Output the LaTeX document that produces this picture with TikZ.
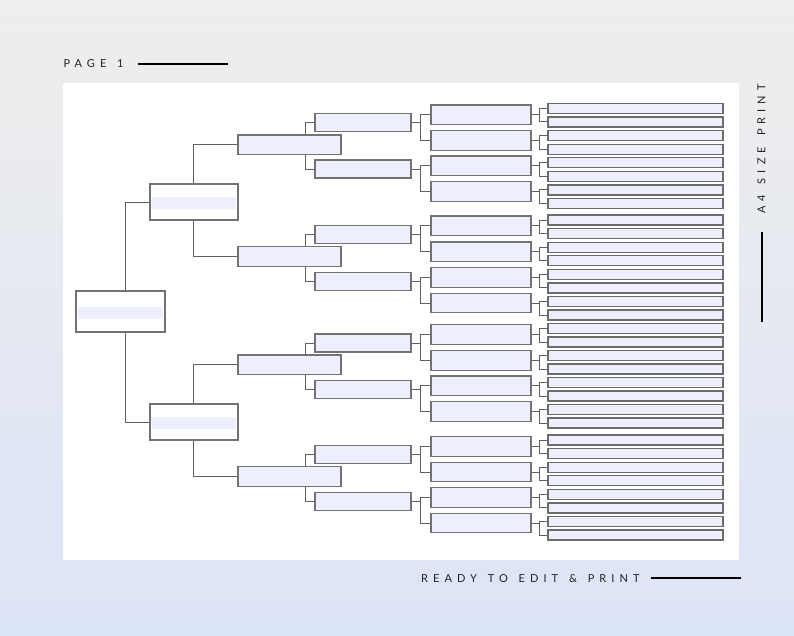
\documentclass[tikz,border=0pt]{standalone}
\usepackage{fontspec}
\newfontfamily\labfont[LetterSpace=46,WordSpace={1.38}]{Lato}
\definecolor{bgtop}{RGB}{238,238,236}
\definecolor{bgbot}{RGB}{220,228,248}
\definecolor{boxfill}{RGB}{237,240,252}
\definecolor{boxline}{RGB}{115,115,115}
\definecolor{leafline}{RGB}{108,108,108}
\definecolor{wirecol}{RGB}{95,95,95}
\definecolor{ink}{RGB}{35,35,35}
\pgfdeclarelayer{bg}
\pgfsetlayers{bg,main}
\begin{document}
\begin{tikzpicture}[x=1pt,y=-1pt,
  basebox/.style={draw=boxline,line width=1.1pt,inner sep=0pt,outer sep=0pt,anchor=north west},
  bigbox/.style={basebox,fill=white},
  midbox/.style={basebox,fill=boxfill},
  leafbox/.style={basebox,draw=leafline,line width=1.2pt,fill=boxfill},
  wire/.style={draw=wirecol,line width=1pt},
  rulebar/.style={draw=black,line width=2pt},
  lab/.style={text=ink,inner sep=0pt,font=\labfont\fontsize{11}{13}\selectfont}]
\useasboundingbox (0,0) rectangle (794,635);

% boxes
\node[bigbox,minimum width=89pt,minimum height=41pt] (l1) at (76,291) {};
\fill[boxfill] (77.7,306.7) rectangle (163.3,319);
\foreach \t [count=\i] in {184,404} {
  \node[bigbox,minimum width=88pt,minimum height=36pt] (l2-\i) at (150,\t) {};
  \fill[boxfill] (152,\t+12.5) rectangle (236,\t+25);
}
\foreach \t [count=\i] in {135,246.7,355,466.7}
  \node[midbox,minimum width=103pt,minimum height=19.5pt] (l3-\i) at (238,\t) {};
\foreach \t [count=\i] in {113.7,160,225.3,272.3,334,380.7,445.7,492.3}
  \node[midbox,minimum width=96pt,minimum height=18pt] (l4-\i) at (315,\t) {};
\foreach \t [count=\i] in {105,130.7,156,181.7,216,242,267.7,293.3,324.7,350.7,376,401.7,436.7,462.3,487.7,513.3}
  \node[midbox,minimum width=100pt,minimum height=19.5pt] (l5-\i) at (431,\t) {};
\foreach \t [count=\i] in {103.3,116.9,130.5,144.1,157.7,171.3,184.9,198.5,
                           215,228.6,242.1,255.7,269.3,282.9,296.4,310,
                           323.5,337,350.5,364,377.5,391,404.5,418,
                           435,448.6,462.1,475.7,489.3,502.9,516.4,530}
  \node[leafbox,minimum width=175pt,minimum height=10pt] (l6-\i) at (548,\t) {};

\coordinate (bus4) at (420.7,0);
\coordinate (bus5) at (539.3,0);

% labels
\node[lab,anchor=base west] (pagelbl) at (63.3,67.7) {PAGE 1};
\coordinate (pr1) at (137.7,64);
\coordinate (pr2) at (228.3,64);
\node[lab,anchor=base west] (readylbl) at (421,582.3) {READY TO EDIT \& PRINT};
\coordinate (rr1) at (651,578);
\coordinate (rr2) at (741,578);
\node[lab,anchor=base west,rotate=90] (a4lbl) at (765.3,214) {A4 SIZE PRINT};
\coordinate (ar1) at (762.3,231.7);
\coordinate (ar2) at (762.3,321.7);
\draw[rulebar] (pr1) -- (pr2);
\draw[rulebar] (rr1) -- (rr2);
\draw[rulebar] (ar1) -- (ar2);

\begin{pgfonlayer}{bg}
  \shade[top color=bgtop,bottom color=bgbot] (0,0) rectangle (794,635);
  \fill[white] (63,83) rectangle (739,560);
  % root to level 2
  \draw[wire] ([xshift=4.5pt]l1.north) |- (l2-1.west);
  \draw[wire] ([xshift=4.5pt]l1.south) |- (l2-2.west);
  % level 2 to level 3
  \foreach \i [evaluate=\i as \a using int(2*\i-1), evaluate=\i as \b using int(2*\i)] in {1,2} {
    \draw[wire] ([xshift=-0.7pt]l2-\i.north) |- (l3-\a.west);
    \draw[wire] ([xshift=-0.7pt]l2-\i.south) |- (l3-\b.west);
  }
  % level 3 to level 4
  \foreach \i [evaluate=\i as \a using int(2*\i-1), evaluate=\i as \b using int(2*\i)] in {1,...,4} {
    \draw[wire] ([xshift=15.5pt]l3-\i.north) |- (l4-\a.west);
    \draw[wire] ([xshift=15.5pt]l3-\i.south) |- (l4-\b.west);
  }
  % level 4 to level 5
  \foreach \i [evaluate=\i as \a using int(2*\i-1), evaluate=\i as \b using int(2*\i)] in {1,...,8} {
    \draw[wire] (l4-\i.east) -- (l4-\i.east -| bus4);
    \draw[wire] (l5-\a.west) -| (bus4 |- l5-\b.west) -- (l5-\b.west);
  }
  % level 5 to level 6
  \foreach \i [evaluate=\i as \a using int(2*\i-1), evaluate=\i as \b using int(2*\i)] in {1,...,16} {
    \draw[wire] (l5-\i.east) -- (l5-\i.east -| bus5);
    \draw[wire] (l6-\a.west) -| (bus5 |- l6-\b.west) -- (l6-\b.west);
  }
\end{pgfonlayer}
\end{tikzpicture}
\end{document}
